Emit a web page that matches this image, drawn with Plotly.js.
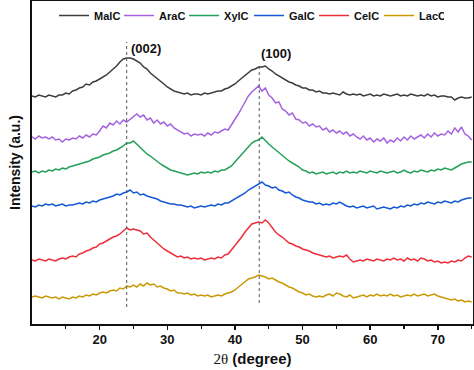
<!DOCTYPE html>
<html>
<head>
<meta charset="utf-8">
<script src="https://cdn.plot.ly/plotly-3.0.1.min.js"></script>
<style>html,body{margin:0;padding:0;background:#fff;}#chart{width:474px;height:370px;}</style>
</head>
<body>
<div id="chart"></div>
<script>
var twoTheta = [
10,10.5,11,11.5,12,12.5,13,13.5,14,14.5,
15,15.5,16,16.5,17,17.5,18,18.5,19,19.5,
20,20.5,21,21.5,22,22.5,23,23.5,24,24.5,
25,25.5,26,26.5,27,27.5,28,28.5,29,29.5,
30,30.5,31,31.5,32,32.5,33,33.5,34,34.5,
35,35.5,36,36.5,37,37.5,38,38.5,39,39.5,
40,40.5,41,41.5,42,42.5,43,43.5,44,44.5,
45,45.5,46,46.5,47,47.5,48,48.5,49,49.5,
50,50.5,51,51.5,52,52.5,53,53.5,54,54.5,
55,55.5,56,56.5,57,57.5,58,58.5,59,59.5,
60,60.5,61,61.5,62,62.5,63,63.5,64,64.5,
65,65.5,66,66.5,67,67.5,68,68.5,69,69.5,
70,70.5,71,71.5,72,72.5,73,73.5,74,74.5,
75];

var malC = [
228,227,229,228,227,229,228,227,229,229,
231,230,233,234,236,237,240,239,242,243,
245,247,249,252,255,258,262,265,266,266,
265,263,261,257,255,251,248,246,242,240,
237,235,233,232,231,230,231,229,230,230,
229,231,230,231,232,233,233,235,236,238,
240,243,246,248,251,254,255,257,257,258,
255,253,250,248,246,244,242,241,239,238,
236,236,234,234,232,233,231,231,230,231,
230,229,232,230,229,230,229,230,228,229,
230,228,229,228,230,229,228,229,230,228,
229,228,230,229,228,229,228,230,228,229,
227,228,228,227,227,224,226,227,226,226,
227];

var araC = [
187,185,188,186,187,185,187,184,185,182,
185,184,186,185,188,186,189,187,190,189,
193,198,196,201,199,203,200,204,202,205,
207,210,207,209,204,206,201,204,200,202,
198,200,196,194,192,190,191,188,190,189,
190,188,191,189,192,191,193,195,194,199,
205,210,216,222,228,232,235,238,233,236,
229,226,221,222,215,213,209,211,205,204,
201,202,198,200,197,198,194,196,192,194,
191,193,190,192,188,190,187,185,188,184,
186,182,185,183,186,181,184,182,186,183,
187,184,188,185,187,189,186,190,187,191,
188,190,189,193,190,196,192,197,190,188,
184];

var xylC = [
152,153,151,153,152,154,153,155,154,156,
155,157,158,159,160,161,162,163,165,166,
167,169,170,171,173,174,176,178,181,181,
183,180,176,173,170,168,165,162,160,158,
156,154,153,152,151,150,149,150,151,150,
152,151,152,151,153,152,154,154,156,158,
162,166,170,174,178,181,183,184,187,183,
180,177,174,171,168,166,163,161,159,157,
154,153,151,152,150,151,152,150,151,152,
150,152,151,153,151,152,151,153,152,151,
153,152,151,153,152,151,152,153,151,152,
154,152,151,153,152,154,153,152,154,153,
155,154,156,155,154,156,158,160,161,162,
162];

var galC = [
118,117,119,118,120,119,120,118,119,120,
118,119,119,120,121,120,122,121,123,122,
124,125,126,127,128,130,129,131,132,134,
131,132,129,130,128,127,126,125,123,122,
121,120,120,119,119,118,117,118,116,117,
118,117,118,119,118,120,119,121,121,123,
125,127,129,131,134,136,138,140,142,139,
138,136,137,134,133,131,132,129,127,126,
124,123,122,122,120,121,119,120,119,121,
120,122,120,118,117,118,116,117,118,116,
117,118,115,116,117,116,115,117,116,118,
117,119,118,120,119,121,120,122,121,120,
122,121,123,122,121,123,122,124,125,126,
126];

var celC = [
64,63,65,64,63,65,64,63,65,66,
65,67,68,67,70,71,73,74,76,77,
80,81,83,85,87,88,90,93,96,94,
95,94,93,90,91,87,84,82,78,75,
73,71,69,67,68,66,67,65,66,65,
66,64,65,66,65,67,66,69,70,74,
78,82,87,92,96,100,101,102,101,104,
101,96,92,89,87,84,81,80,78,77,
75,74,73,71,70,69,68,67,68,66,
67,68,67,69,65,62,63,64,63,65,
64,63,65,64,63,65,64,66,64,65,
63,66,64,65,63,66,65,63,64,62,
63,61,62,61,63,62,64,63,66,68,
67];

var lacC = [
27,28,27,26,28,27,26,27,25,27,
26,25,27,26,28,27,29,28,30,29,
31,32,31,33,34,33,36,35,38,37,
39,37,40,38,41,39,40,37,38,36,
35,33,34,31,31,30,31,29,30,28,
29,28,29,27,28,29,28,30,31,32,
34,37,40,43,45,46,47,49,48,47,
45,46,44,42,41,39,37,36,34,32,
31,29,30,28,27,28,27,29,30,28,
31,30,28,27,29,26,27,28,29,27,
29,28,30,28,29,28,30,28,29,27,
28,29,28,30,28,29,30,28,29,30,
28,27,26,25,24,25,23,24,22,23,
22];

var seriesNames = ["MalC","AraC","XylC","GalC","CelC","LacC"];
var seriesData = [malC, araC, xylC, galC, celC, lacC];
var seriesColors = ["#3d3d3d","#a463e0","#23a05a","#1558d6","#ee2f3a","#c99a06"];

var peakLabels = ["(002)","(100)"];
var peakPos = [24.0, 43.6];
var peakLineTop = [282, 259];
var peakLineBottom = [17, 21];
var labelX = [26.9, 46.0];
var labelY = [276, 271];

var font = "Arial, 'Liberation Sans', sans-serif";

var traces = seriesNames.map(function(n, i){
  return {x: twoTheta, y: seriesData[i], name: n, type: "scatter", mode: "lines",
          line: {color: seriesColors[i], width: 1.5}};
});

var shapes = peakPos.map(function(p, i){
  return {type: "line", xref: "x", yref: "y", x0: p, x1: p, y0: peakLineBottom[i], y1: peakLineTop[i],
          line: {color: "#555", width: 1, dash: "dot"}};
});

var annotations = peakLabels.map(function(t, i){
  return {x: labelX[i], y: labelY[i], xref: "x", yref: "y", text: t, showarrow: false,
          font: {family: font, size: 13, color: "#111", weight: "bold"}};
});

var layout = {
  width: 474, height: 370,
  margin: {l: 32, r: 1, t: 1, b: 46},
  paper_bgcolor: "#fff", plot_bgcolor: "#fff",
  showlegend: true,
  legend: {orientation: "h", x: 0.05, xanchor: "left", y: 1, yanchor: "top",
           bgcolor: "rgba(0,0,0,0)", font: {family: font, size: 11, color: "#111", weight: "bold"},
           entrywidth: 20, entrywidthmode: "pixels", traceorder: "normal"},
  xaxis: {range: [10, 75.2], tickvals: [20,30,40,50,60,70], ticks: "outside", ticklen: 4, tickwidth: 1.5,
          tickcolor: "#111", showline: true, linecolor: "#111", linewidth: 2, mirror: true,
          showgrid: false, zeroline: false, ticklabelstandoff: -2,
          minor: {tickvals: [15,25,35,45,55,65,75], ticks: "outside", ticklen: 3, tickwidth: 1.2, tickcolor: "#111"},
          tickfont: {family: font, size: 13, color: "#111", weight: "bold"},
          title: {text: '<span style="font-family:\'Liberation Serif\',serif;font-weight:normal">2θ</span> (degree)',
                  font: {family: font, size: 15, color: "#111", weight: "bold"}, standoff: 8}},
  yaxis: {range: [0, 323], showticklabels: false, ticks: "", showline: true, linecolor: "#111", linewidth: 2,
          mirror: true, showgrid: false, zeroline: false,
          title: {text: "Intensity (a.u.)", font: {family: font, size: 14, color: "#111", weight: "bold"}, standoff: 6}},
  shapes: shapes,
  annotations: annotations
};

Plotly.newPlot("chart", traces, layout, {displayModeBar: false, staticPlot: true});
</script>
</body>
</html>
